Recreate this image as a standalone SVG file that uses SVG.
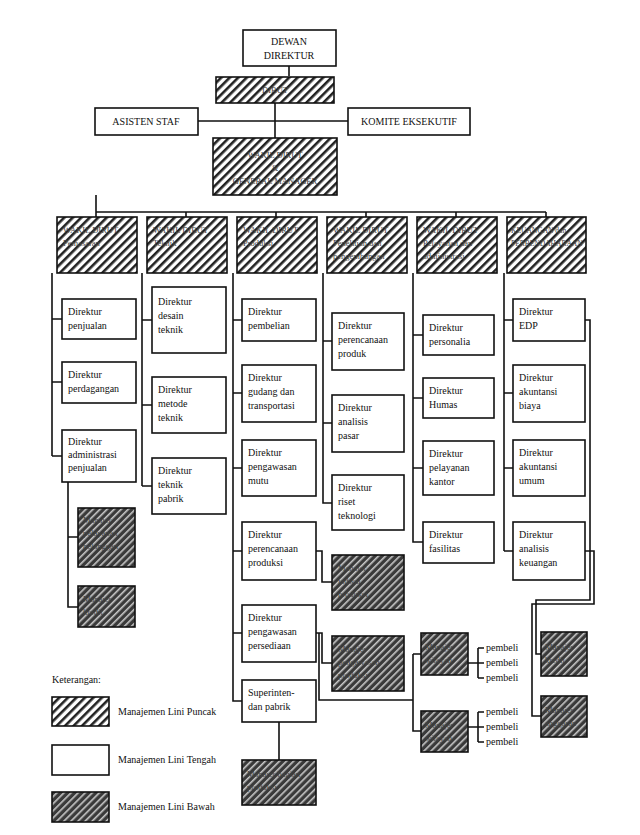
<svg xmlns="http://www.w3.org/2000/svg" width="640" height="835" viewBox="0 0 640 835">
<defs>
<pattern id="hl" patternUnits="userSpaceOnUse" width="6" height="6" patternTransform="rotate(45)"><rect width="6" height="6" fill="#fff" stroke="none"/><rect width="2.6" height="6" fill="#222" stroke="none"/></pattern>
<pattern id="hd" patternUnits="userSpaceOnUse" width="5" height="5" patternTransform="rotate(45)"><rect width="5" height="5" fill="#3a3a3a" stroke="none"/><rect width="1.6" height="5" fill="#c8c8c8" stroke="none"/></pattern>
</defs>
<style>
.w,.l,.d{stroke:#111;stroke-width:1.6}
.w{fill:#fff}.l{fill:url(#hl)}.d{fill:url(#hd)}
text{font-family:"Liberation Serif",serif;font-size:10px;fill:#111}
.c{text-anchor:middle}
.h{fill:#444;font-size:8.5px}
.cn path{fill:none;stroke:#111;stroke-width:1.6}
</style>
<rect width="640" height="835" fill="#fff"/>
<g class="cn">
<path d="M289 66V76M275 103V138M198 121H348M96 195V217M96 212H546M186 212V217M276 212V217M366 212V217M456 212V217M546 212V217"/>
<path d="M52 273V456M52 319H62M52 382H62M52 456H62M68 482V607H78M68 537H78"/>
<path d="M142 273V486M142 320H152M142 405H152M142 486H152"/>
<path d="M233 273V701H242M233 320H242M233 393H242M233 468H242M233 551H242M233 633H242M279 722V760"/>
<path d="M316 551H322V582H332M316 633H322V663H332M319 633V700H413"/>
<path d="M323 273V503H332M323 341H332M323 423H332"/>
<path d="M413 273V542H423M413 335H423M413 398H423M413 468H423M413 654V731H421M413 654H421"/>
<path d="M468 663H478M478 648V678M478 648H484M478 663H484M478 678H484M468 727H478M478 712V742M478 712H484M478 727H484M478 742H484"/>
<path d="M504 273V320H513M504 393H513M504 468H513M504 551H513M504 320V551"/>
<path d="M585 320H590V600H536V654H541M585 551H594V604H532V716H541"/>
</g>
<g id="dewan"><rect class="w" x="243" y="30" width="93" height="36"/><text class="c" x="289" y="45">DEWAN</text><text class="c" x="289" y="59">DIREKTUR</text></g>
<g id="dirut"><rect class="l" x="216" y="77" width="118" height="26"/><text class="c h" x="275" y="93">DIRUT</text></g>
<g id="asisten"><rect class="w" x="95" y="108" width="103" height="27"/><text class="c" x="146" y="125">ASISTEN STAF</text></g>
<g id="komite"><rect class="w" x="348" y="108" width="122" height="27"/><text class="c" x="409" y="125">KOMITE EKSEKUTIF</text></g>
<g id="wakil"><rect class="l" x="213" y="138" width="124" height="57"/><text class="c h" x="275" y="158">WAKIL DIRUT</text><text class="c h" x="275" y="171">&amp;</text><text class="c h" x="275" y="184">GENERAL MANAGER</text></g>
<g id="w1"><rect class="l" x="57" y="217" width="80" height="56"/><text class="h" x="63" y="233">WAKIL DIRUT</text><text class="h" x="63" y="246">Pemasaran</text></g>
<g id="w2"><rect class="l" x="147" y="217" width="80" height="56"/><text class="h" x="153" y="233">WAKIL DIRUT</text><text class="h" x="153" y="246">Teknik</text></g>
<g id="w3"><rect class="l" x="237" y="217" width="80" height="56"/><text class="h" x="243" y="233">WAKIL DIRUT</text><text class="h" x="243" y="246">Produksi</text></g>
<g id="w4"><rect class="l" x="327" y="217" width="80" height="56"/><text class="h" x="333" y="233">WAKIL DIRUT</text><text class="h" x="333" y="246">Penelitian dan</text><text class="h" x="333" y="259">pengembangan</text></g>
<g id="w5"><rect class="l" x="417" y="217" width="80" height="56"/><text class="h" x="423" y="233">WAKIL DIRUT</text><text class="h" x="423" y="246">Pelayanan dan</text><text class="h" x="423" y="259">administrasi</text></g>
<g id="w6"><rect class="l" x="507" y="217" width="79" height="56"/><text class="h" x="511" y="233" style="font-size:7.5px">KEUANGAN dan</text><text class="h" x="511" y="246" style="font-size:7.5px">PERBENDAHARAAN</text></g>
<g id="a1"><rect class="w" x="62" y="299" width="74" height="40"/><text x="68" y="315">Direktur</text><text x="68" y="329">penjualan</text></g>
<g id="a2"><rect class="w" x="62" y="362" width="74" height="41"/><text x="68" y="378">Direktur</text><text x="68" y="392">perdagangan</text></g>
<g id="a3"><rect class="w" x="62" y="430" width="74" height="52"/><text x="68" y="445">Direktur</text><text x="68" y="458">administrasi</text><text x="68" y="471">penjualan</text></g>
<g id="a4"><rect class="d" x="78" y="508" width="57" height="59"/><text class="h" x="83" y="523">Manajer</text><text class="h" x="83" y="536">pelayanan</text><text class="h" x="83" y="549">pelanggan</text></g>
<g id="a5"><rect class="d" x="78" y="586" width="57" height="41"/><text class="h" x="83" y="602">Manajer</text><text class="h" x="83" y="615">kredit</text></g>
<g id="b1"><rect class="w" x="152" y="287" width="74" height="66"/><text x="158" y="305">Direktur</text><text x="158" y="319">desain</text><text x="158" y="333">teknik</text></g>
<g id="b2"><rect class="w" x="152" y="377" width="74" height="56"/><text x="158" y="393">Direktur</text><text x="158" y="407">metode</text><text x="158" y="421">teknik</text></g>
<g id="b3"><rect class="w" x="152" y="458" width="74" height="56"/><text x="158" y="474">Direktur</text><text x="158" y="488">teknik</text><text x="158" y="502">pabrik</text></g>
<g id="c1"><rect class="w" x="242" y="299" width="74" height="42"/><text x="248" y="315">Direktur</text><text x="248" y="329">pembelian</text></g>
<g id="c2"><rect class="w" x="242" y="365" width="74" height="57"/><text x="248" y="381">Direktur</text><text x="248" y="395">gudang dan</text><text x="248" y="409">transportasi</text></g>
<g id="c3"><rect class="w" x="242" y="440" width="74" height="56"/><text x="248" y="456">Direktur</text><text x="248" y="470">pengawasan</text><text x="248" y="484">mutu</text></g>
<g id="c4"><rect class="w" x="242" y="522" width="74" height="58"/><text x="248" y="538">Direktur</text><text x="248" y="552">perencanaan</text><text x="248" y="566">produksi</text></g>
<g id="c5"><rect class="w" x="242" y="605" width="74" height="57"/><text x="248" y="621">Direktur</text><text x="248" y="635">pengawasan</text><text x="248" y="649">persediaan</text></g>
<g id="c6"><rect class="w" x="242" y="680" width="74" height="42"/><text x="248" y="696">Superinten-</text><text x="248" y="710">dan pabrik</text></g>
<g id="c7"><rect class="d" x="242" y="760" width="74" height="45"/><text class="h" x="247" y="777">Manajer bagian</text><text class="h" x="247" y="790">produksi</text></g>
<g id="c8"><rect class="d" x="332" y="555" width="72" height="55"/><text class="h" x="338" y="571">Manajer</text><text class="h" x="338" y="584">jadwal</text><text class="h" x="338" y="597">produksi</text></g>
<g id="c9"><rect class="d" x="332" y="636" width="72" height="55"/><text class="h" x="338" y="652">Manajer</text><text class="h" x="338" y="665">pengawasan</text><text class="h" x="338" y="678">produksi</text></g>
<g id="d1"><rect class="w" x="332" y="313" width="72" height="57"/><text x="338" y="329">Direktur</text><text x="338" y="343">perencanaan</text><text x="338" y="357">produk</text></g>
<g id="d2"><rect class="w" x="332" y="395" width="72" height="57"/><text x="338" y="411">Direktur</text><text x="338" y="425">analisis</text><text x="338" y="439">pasar</text></g>
<g id="d3"><rect class="w" x="332" y="475" width="72" height="55"/><text x="338" y="491">Direktur</text><text x="338" y="505">riset</text><text x="338" y="519">teknologi</text></g>
<g id="e1"><rect class="w" x="423" y="315" width="71" height="40"/><text x="429" y="331">Direktur</text><text x="429" y="345">personalia</text></g>
<g id="e2"><rect class="w" x="423" y="378" width="71" height="40"/><text x="429" y="394">Direktur</text><text x="429" y="408">Humas</text></g>
<g id="e3"><rect class="w" x="423" y="441" width="71" height="54"/><text x="429" y="457">Direktur</text><text x="429" y="471">pelayanan</text><text x="429" y="485">kantor</text></g>
<g id="e4"><rect class="w" x="423" y="522" width="71" height="41"/><text x="429" y="538">Direktur</text><text x="429" y="552">fasilitas</text></g>
<g id="e5"><rect class="d" x="421" y="633" width="47" height="42"/><text class="h" x="425" y="650">Manajer</text><text class="h" x="425" y="663">wilayah</text></g>
<g id="e6"><rect class="d" x="421" y="711" width="47" height="41"/><text class="h" x="425" y="728">Manajer</text><text class="h" x="425" y="741">wilayah</text></g>
<g id="p"><text x="486" y="651">pembeli</text><text x="486" y="666">pembeli</text><text x="486" y="681">pembeli</text><text x="486" y="715">pembeli</text><text x="486" y="730">pembeli</text><text x="486" y="745">pembeli</text></g>
<g id="f1"><rect class="w" x="513" y="299" width="72" height="42"/><text x="519" y="315">Direktur</text><text x="519" y="329">EDP</text></g>
<g id="f2"><rect class="w" x="513" y="365" width="72" height="57"/><text x="519" y="381">Direktur</text><text x="519" y="395">akuntansi</text><text x="519" y="409">biaya</text></g>
<g id="f3"><rect class="w" x="513" y="440" width="72" height="56"/><text x="519" y="456">Direktur</text><text x="519" y="470">akuntansi</text><text x="519" y="484">umum</text></g>
<g id="f4"><rect class="w" x="513" y="522" width="72" height="58"/><text x="519" y="538">Direktur</text><text x="519" y="552">analisis</text><text x="519" y="566">keuangan</text></g>
<g id="f5"><rect class="d" x="541" y="632" width="46" height="44"/><text class="h" x="545" y="650">Manajer</text><text class="h" x="545" y="663">kredit</text></g>
<g id="f6"><rect class="d" x="541" y="696" width="46" height="41"/><text class="h" x="545" y="713">Manajer</text><text class="h" x="545" y="726">anggaran</text></g>
<g id="legend">
<text x="52" y="683">Keterangan:</text>
<rect class="l" x="52" y="697" width="57" height="29"/><text x="118" y="715">Manajemen Lini Puncak</text>
<rect class="w" x="52" y="745" width="57" height="30"/><text x="118" y="763">Manajemen Lini Tengah</text>
<rect class="d" x="52" y="792" width="57" height="30"/><text x="118" y="810">Manajemen Lini Bawah</text>
</g>
</svg>
